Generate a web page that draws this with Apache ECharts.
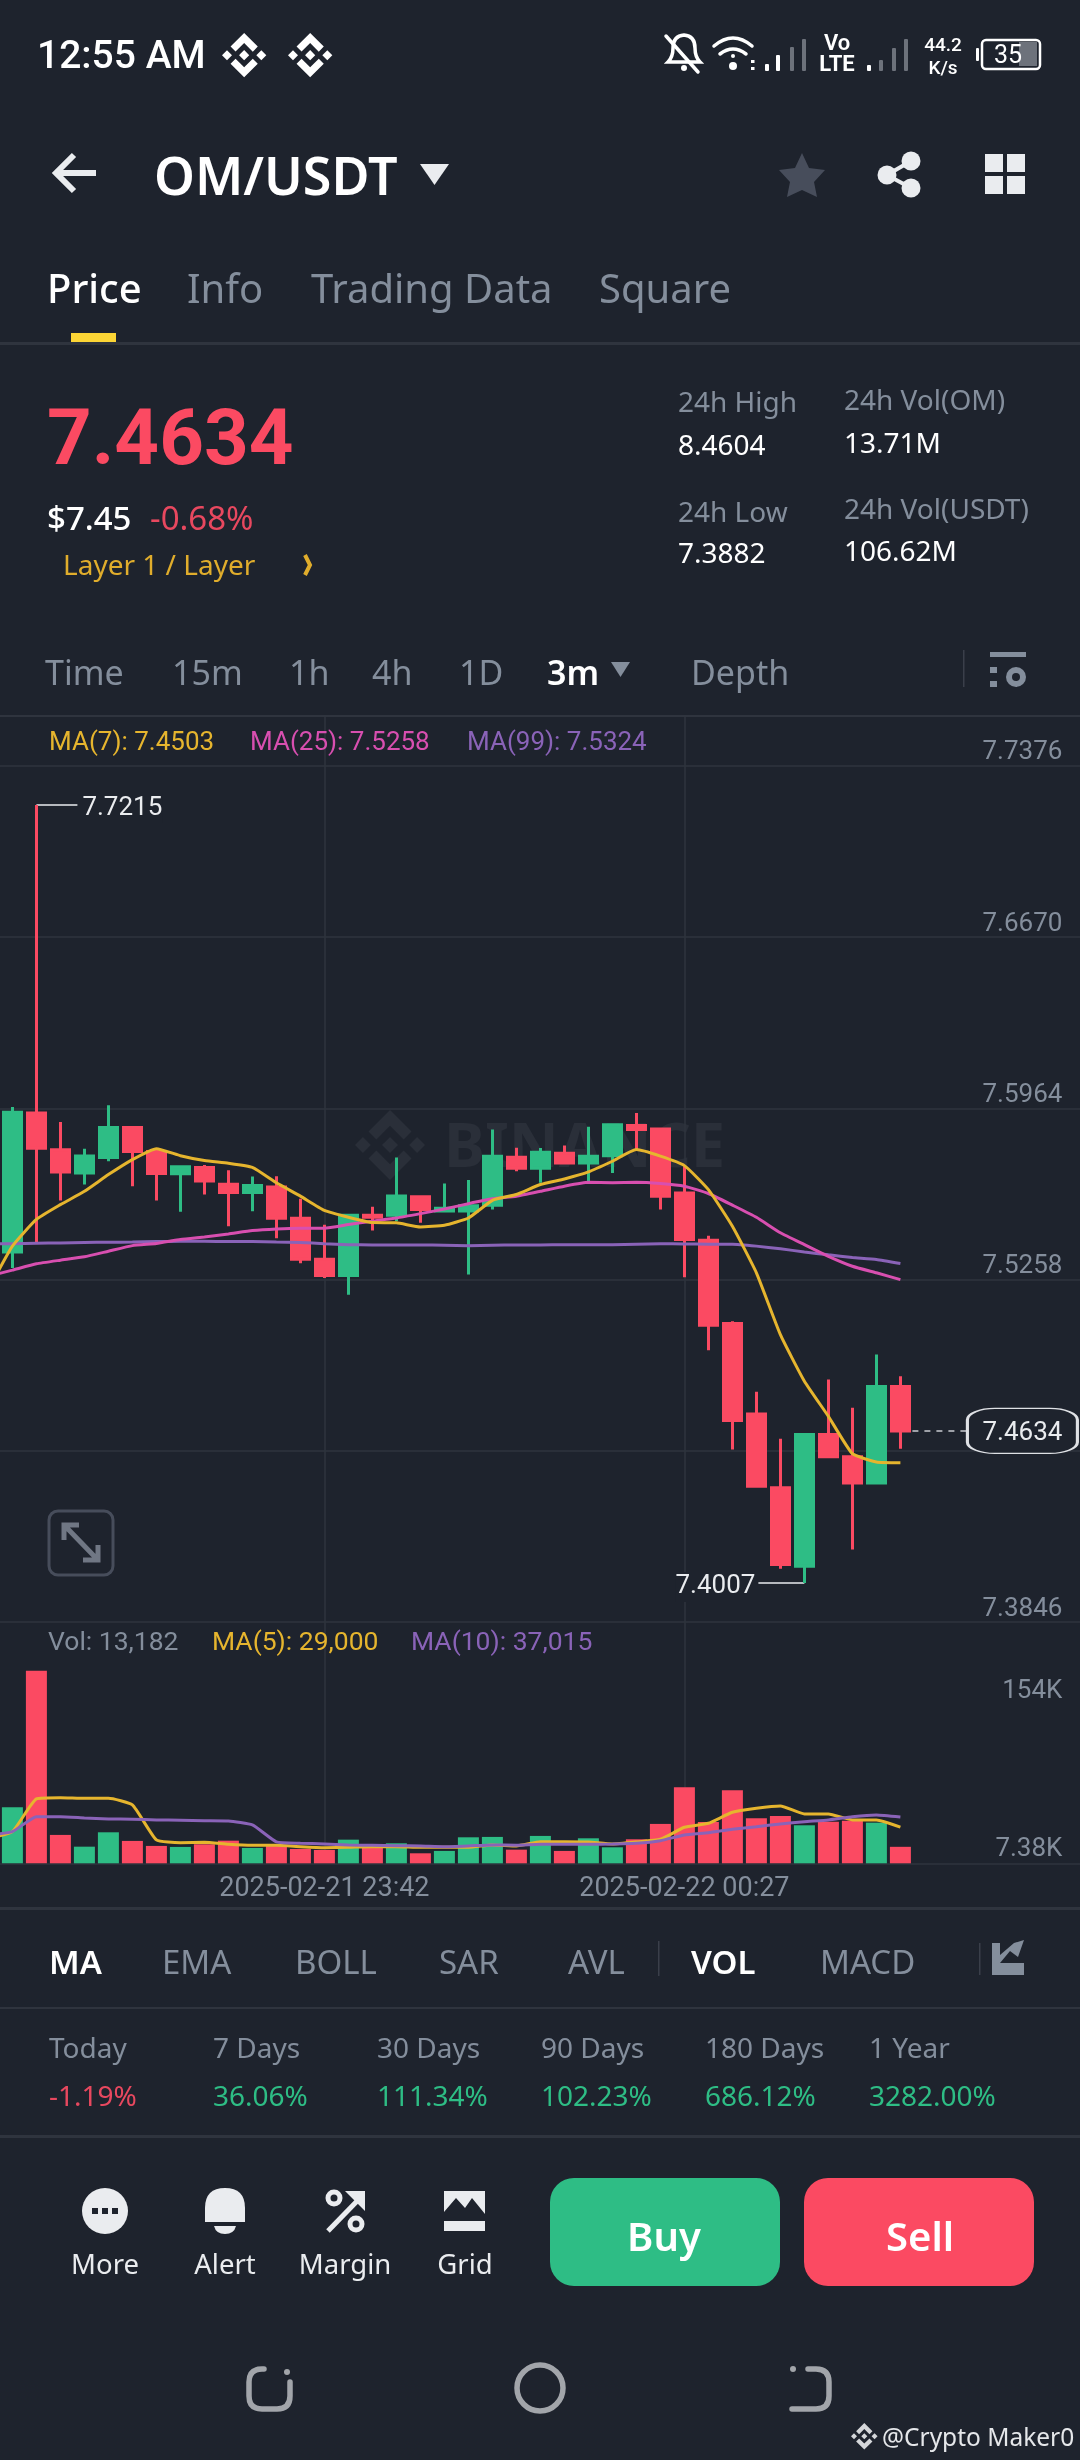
<!DOCTYPE html>
<html>
<head>
<meta charset="utf-8">
<script src="https://cdn.jsdelivr.net/npm/echarts@6/dist/echarts.min.js"></script>
<style>
  html, body { margin: 0; padding: 0; background: #1e232d; }
  #page { position: relative; width: 1080px; height: 2460px; overflow: hidden; background: #1e232d; font-family: "Noto Sans", sans-serif; }
  #mark { position: absolute; left: 0; top: 0; }
  #chart { position: absolute; left: 0; top: 0; width: 1080px; height: 2460px; }
  #icons { position: absolute; left: 0; top: 0; }
  .t { position: absolute; white-space: nowrap; line-height: 1; }
  .rule { position: absolute; left: 0; width: 1080px; background: #2f343e; }
</style>
</head>
<body>
<div id="page">
  <svg id="mark" width="1080" height="2460" viewBox="0 0 1080 2460">
    <g fill="#2a2f39" transform="translate(355,1110) scale(0.553)">
      <path d="M38.73 53.2l24.59-24.58 24.6 24.6 14.3-14.31L63.32 0 24.42 38.9l14.31 14.3z"/>
      <path d="M0 63.31l14.3-14.31 14.31 14.31-14.31 14.3z"/>
      <path d="M38.73 73.41l24.59 24.59 24.6-24.6 14.31 14.29-38.9 38.91-38.91-38.88-.02-.02z"/>
      <path d="M98 63.31l14.3-14.31 14.31 14.3-14.31 14.32z"/>
      <path d="M77.83 63.3L63.32 48.78 52.59 59.51l-1.24 1.23-2.54 2.54 14.51 14.5 14.51-14.47z"/>
    </g>
    <text x="444" y="1167" fill="#2a2f39" font-family="Noto Sans" font-weight="700" font-size="61.5">BINANCE</text>
  </svg>
  <div id="chart"></div>
  <div class="rule" style="top:342px;height:3px"></div>
  <div class="rule" style="top:715px;height:2px"></div>
  <div class="rule" style="top:1907px;height:3px"></div>
  <div class="rule" style="top:2007px;height:2px"></div>
  <div class="rule" style="top:2135px;height:3px"></div>
  <svg id="icons" width="1080" height="2460" viewBox="0 0 1080 2460">
    <defs>
      <g id="bnb">
        <path d="M38.73 53.2l24.59-24.58 24.6 24.6 14.3-14.31L63.32 0 24.42 38.9l14.31 14.3z"/>
        <path d="M0 63.31l14.3-14.31 14.31 14.31-14.31 14.3z"/>
        <path d="M38.73 73.41l24.59 24.59 24.6-24.6 14.31 14.29-38.9 38.91-38.91-38.88-.02-.02z"/>
        <path d="M98 63.31l14.3-14.31 14.31 14.3-14.31 14.32z"/>
        <path d="M77.83 63.3L63.32 48.78 52.59 59.51l-1.24 1.23-2.54 2.54 14.51 14.5 14.51-14.47z"/>
      </g>
    </defs>
    <!-- status bar -->
    <use href="#bnb" fill="#fff" transform="translate(222,33) scale(0.35)"/>
    <use href="#bnb" fill="#fff" transform="translate(288,33) scale(0.35)"/>
    <g fill="none" stroke="#fff" stroke-width="3.5" stroke-linecap="round">
      <path d="M668 62 q5-5 5-14 q0-12 11-13 q11 1 11 13 q0 9 5 14 z"/>
      <path d="M666 36 L698 72"/>
      <path d="M714 46 q19-16 38 0"/>
      <path d="M720 54 q13-10 26 0"/>
    </g>
    <circle cx="684" cy="68" r="3" fill="#fff"/>
    <circle cx="733" cy="66" r="4" fill="#fff"/>
    <circle cx="733" cy="56" r="2" fill="#fff"/>
    <g fill="#fff">
      <rect x="751" y="60" width="3.5" height="3"/><rect x="751" y="67" width="3.5" height="3"/>
      <rect x="765" y="64" width="4" height="7" rx="1"/><rect x="776" y="55" width="4" height="16" rx="1"/>
      <rect x="867" y="65" width="4" height="6" rx="1"/>
    </g>
    <g fill="#6d727b">
      <rect x="790" y="47" width="4" height="24" rx="1"/><rect x="802" y="39" width="4" height="32" rx="1"/>
      <rect x="879" y="60" width="4" height="11" rx="1"/><rect x="892" y="48" width="4" height="23" rx="1"/><rect x="904" y="39" width="4" height="32" rx="1"/>
    </g>
    <rect x="1019" y="42" width="18" height="24" fill="#6d727b"/>
    <rect x="982" y="40" width="58" height="29" rx="4" fill="none" stroke="#fff" stroke-width="2.5"/>
    <rect x="976" y="48" width="3" height="13" rx="1" fill="#fff"/>
    <!-- header -->
    <path d="M96 173 H58 M74 155 L56 173 L74 191" fill="none" stroke="#eaecef" stroke-width="6"/>
    <path d="M420 164 H449 L434.5 185 z" fill="#eaecef"/>
    <path d="M802 153 l7 15 l16 2 l-11 12 l3 15 l-15 -7 l-15 7 l3 -15 l-11 -12 l16 -2 z" fill="#474d5b"/>
    <g fill="#eaecef">
      <circle cx="911" cy="161" r="9.5"/><circle cx="887" cy="175" r="9.5"/><circle cx="911" cy="188" r="9.5"/>
      <rect x="985" y="154" width="18" height="18"/><rect x="1007" y="154" width="18" height="18"/>
      <rect x="985" y="176" width="18" height="18"/><rect x="1007" y="176" width="18" height="18"/>
    </g>
    <path d="M911 161 L887 175 L911 188" fill="none" stroke="#eaecef" stroke-width="4"/>
    <rect x="71" y="333" width="45" height="9" fill="#fcd535"/>
    <path d="M305 555 l5 10 l-5 10" fill="none" stroke="#e0ad2c" stroke-width="4"/>
    <!-- interval row -->
    <path d="M611 662 H630 L620.5 677 z" fill="#848e9c"/>
    <rect x="963" y="650" width="1.5" height="37" fill="#3a3f4a"/>
    <g fill="#848e9c">
      <rect x="990" y="652" width="36" height="5"/>
      <rect x="990" y="667" width="7" height="6"/><rect x="990" y="681" width="7" height="6"/>
      <circle cx="1016" cy="677" r="10"/>
    </g>
    <circle cx="1016" cy="677" r="4" fill="#1e232d"/>
    <!-- expand button -->
    <rect x="49" y="1511" width="64" height="64" rx="9" fill="none" stroke="#474d5b" stroke-width="3"/>
    <path d="M66 1527 L96 1558 M64 1540 V1525 H79 M98 1545 V1560 H83" fill="none" stroke="#707784" stroke-width="5"/>
    <!-- indicator row -->
    <rect x="658" y="1941" width="1.5" height="35" fill="#3a3f4a"/>
    <rect x="979" y="1943" width="1.5" height="32" fill="#3a3f4a"/>
    <path d="M992 1943 h8 v12 l14 -12 l10 -3 l-6 17 l-8 -6 l-10 12 h24 v12 h-32 z" fill="#848e9c"/>
    <!-- bottom actions -->
    <circle cx="105" cy="2211" r="23" fill="#eaecef"/>
    <g fill="#1e232d"><rect x="92" y="2208" width="6" height="6"/><rect x="102" y="2208" width="6" height="6"/><rect x="112" y="2208" width="6" height="6"/></g>
    <path d="M205 2222 V2208 q0-20 20-20 q20 0 20 20 V2222 z" fill="#eaecef"/>
    <path d="M214 2226 h22 q-2 8 -11 8 q-9 0 -11 -8 z" fill="#eaecef"/>
    <g fill="none" stroke="#eaecef" stroke-width="5">
      <path d="M328 2231 L362 2196"/><circle cx="334" cy="2198" r="6"/><circle cx="356" cy="2224" r="6"/>
    </g>
    <path d="M345 2191 H365 V2211 z" fill="#eaecef"/>
    <path d="M444 2191 H485 V2214 L472 2198 L465 2208 L456 2198 L444 2212 z" fill="#eaecef"/>
    <rect x="444" y="2221" width="41" height="10" fill="#eaecef"/>
    <rect x="550" y="2178" width="230" height="108" rx="24" fill="#2ebd85"/>
    <rect x="804" y="2178" width="230" height="108" rx="24" fill="#fb4a62"/>
    <!-- nav bar -->
    <g fill="none" stroke="#a2a5aa" stroke-width="5.5" stroke-linecap="round">
      <path d="M264 2369 h-2 q-13 0 -13 13 v14 q0 13 13 13 h15 q13 0 13 -13 v-14"/>
      <ellipse cx="540" cy="2388" rx="23" ry="23"/>
      <path d="M808 2369 h8 q13 0 13 13 v14 q0 13 -13 13 h-24"/>
    </g>
    <circle cx="287" cy="2372" r="3" fill="#a2a5aa"/>
    <circle cx="793" cy="2369" r="3" fill="#a2a5aa"/>
    <use href="#bnb" fill="#d5d7da" transform="translate(851,2423) scale(0.21)"/>
  </svg>
</div>
<script>
// 3m candles, 23:03 -> 00:54
const opens  = [7.5372,7.5945,7.5793,7.5698,7.5761,7.5885,7.5786,7.5694,7.5720,7.5651,7.5617,7.5640,7.5511,7.5342,7.5275,7.5523,7.5523,7.5600,7.5541,7.5541,7.5565,7.5763,7.5717,7.5779,7.5739,7.5769,7.5893,7.5879,7.5615,7.5420,7.5077,7.4704,7.4400,7.4076,7.4619,7.4527,7.4419,7.4817];
const closes = [7.5948,7.5800,7.5702,7.5768,7.5885,7.5786,7.5695,7.5723,7.5665,7.5617,7.5646,7.5511,7.5342,7.5275,7.5523,7.5515,7.5603,7.5547,7.5552,7.5563,7.5767,7.5717,7.5783,7.5739,7.5767,7.5897,7.5877,7.5602,7.5423,7.5070,7.4677,7.4406,7.4083,7.4619,7.4527,7.4419,7.4817,7.4634];
const lows   = [7.5306,7.5412,7.5584,7.5650,7.5746,7.5643,7.5584,7.5538,7.5609,7.5478,7.5540,7.5429,7.5325,7.5265,7.5196,7.5460,7.5499,7.5492,7.5537,7.5279,7.5547,7.5705,7.5657,7.5739,7.5657,7.5698,7.5794,7.5547,7.5268,7.4967,7.4557,7.4406,7.4066,7.4007,7.4527,7.4145,7.4419,7.4560];
const highs  = [7.5970,7.7215,7.5908,7.5798,7.5977,7.5885,7.5794,7.5723,7.5731,7.5709,7.5683,7.5684,7.5591,7.5484,7.5529,7.5558,7.5761,7.5600,7.5654,7.5669,7.5877,7.5802,7.5801,7.5811,7.5888,7.5897,7.5945,7.5879,7.5725,7.5439,7.5086,7.4795,7.4602,7.4619,7.4846,7.4730,7.4949,7.4859];

// these start one bar before the first visible candle, so the lines run off the left edge
const ma7  = [7.5217,7.5396,7.5506,7.5567,7.5622,7.5691,7.5753,7.5798,7.5769,7.5749,7.5738,7.5721,7.5657,7.5602,7.5543,7.5515,7.5493,7.5492,7.5475,7.5482,7.5512,7.5585,7.5609,7.5650,7.5673,7.5702,7.5746,7.5794,7.5767,7.5728,7.5629,7.5478,7.5286,7.5031,7.4839,7.4694,7.4540,7.4506,7.4503];
const ma25 = [7.5272,7.5297,7.5323,7.5338,7.5352,7.5375,7.5398,7.5407,7.5423,7.5434,7.5446,7.5460,7.5467,7.5470,7.5470,7.5485,7.5499,7.5512,7.5530,7.5549,7.5571,7.5591,7.5602,7.5622,7.5643,7.5659,7.5657,7.5659,7.5654,7.5643,7.5613,7.5565,7.5515,7.5451,7.5402,7.5354,7.5313,7.5286,7.5258];
const ma99 = [7.5406,7.5406,7.5408,7.5409,7.5411,7.5412,7.5413,7.5415,7.5416,7.5416,7.5415,7.5415,7.5413,7.5411,7.5406,7.5402,7.5401,7.5401,7.5401,7.5400,7.5398,7.5400,7.5401,7.5401,7.5402,7.5402,7.5402,7.5404,7.5406,7.5405,7.5404,7.5404,7.5396,7.5385,7.5372,7.5360,7.5349,7.5341,7.5324];

const volumes = [44800,154000,22700,13300,24800,17900,13900,13100,15200,18100,12300,14700,11500,10700,18900,13300,16000,8000,9900,20800,21100,10900,21900,9900,20000,12800,19200,31500,60800,33100,58400,36000,37900,30400,33300,34100,32500,13182];
const volMa5  = [20000,25300,51500,52500,52000,52000,46700,18700,16500,16800,15200,14400,14400,13300,12500,12800,13300,13300,12800,12800,12800,14700,13900,17300,17300,17100,15500,17100,19200,28800,32000,40800,44000,45900,39500,39500,34700,34700,29000];
const volMa10 = [22700,25300,37300,37300,36300,35500,35200,34700,34400,34100,33900,30700,17100,16000,15500,14700,14400,14100,13900,13300,13900,14700,14400,15200,15200,15200,15500,16000,18100,22700,24500,27200,29300,31500,33300,34700,37300,38700,37015];

const times = ['2025-02-21 23:00','2025-02-21 23:03','2025-02-21 23:06','2025-02-21 23:09','2025-02-21 23:12','2025-02-21 23:15','2025-02-21 23:18','2025-02-21 23:21','2025-02-21 23:24','2025-02-21 23:27','2025-02-21 23:30','2025-02-21 23:33','2025-02-21 23:36','2025-02-21 23:39','2025-02-21 23:42','2025-02-21 23:45','2025-02-21 23:48','2025-02-21 23:51','2025-02-21 23:54','2025-02-21 23:57','2025-02-22 00:00','2025-02-22 00:03','2025-02-22 00:06','2025-02-22 00:09','2025-02-22 00:12','2025-02-22 00:15','2025-02-22 00:18','2025-02-22 00:21','2025-02-22 00:24','2025-02-22 00:27','2025-02-22 00:30','2025-02-22 00:33','2025-02-22 00:36','2025-02-22 00:39','2025-02-22 00:42','2025-02-22 00:45','2025-02-22 00:48','2025-02-22 00:51','2025-02-22 00:54','2025-02-22 00:57','2025-02-22 01:00','2025-02-22 01:03','2025-02-22 01:06','2025-02-22 01:09','2025-02-22 01:12','2025-02-22 01:15'];
const timeLabels = ['2025-02-21 23:42', '2025-02-22 00:27'];

const priceTicks = [7.3846, 7.4552, 7.5258, 7.5964, 7.6670, 7.7376];
const volTicks = [7380, 154000];
const lastPrice = 7.4634, highPrice = 7.7215, lowPrice = 7.4007;

const UP = '#2ebd85', DOWN = '#fb4a62', YELLOW = '#e6b52e', PINK = '#d84fb0', PURPLE = '#8a63b8';
const GRID = '#2f343e', GREY = '#848e9c', BG = '#1e232d';

// page texts
const page = document.getElementById('page');
function txt(str, x, y, size, color, weight, anchor, font) {
  const d = document.createElement('div');
  d.className = 't';
  d.textContent = str;
  const tx = anchor === 'c' ? '-50%' : anchor === 'r' ? '-100%' : '0';
  d.style.cssText = 'left:' + x + 'px;top:' + y + 'px;font-size:' + size + 'px;color:' + color +
    ';font-weight:' + (weight || 400) + ';transform:translate(' + tx + ',-50%);' + (font ? 'font-family:' + font : '');
  page.appendChild(d);
}
const WHITE = '#eaecef';
txt('12:55 AM', 37, 55, 39, '#fff', 500, 'l', 'Roboto');
txt('Vo', 837, 43, 22, '#fff', 600, 'c', 'Roboto');
txt('LTE', 837, 64, 22, '#fff', 700, 'c', 'Roboto');
txt('44.2', 943, 44, 19, '#fff', 500, 'c', 'Roboto');
txt('K/s', 943, 67, 19, '#fff', 500, 'c', 'Roboto');
txt('35', 1008, 54, 25, '#fff', 400, 'c', 'Roboto');
txt('OM/USDT', 154, 175, 52, '#fff', 600);
[['Price', 47, '#fff', 500], ['Info', 187, GREY], ['Trading Data', 311, GREY], ['Square', 599, GREY]].forEach(a => txt(a[0], a[1], 288, 40, a[2], a[3]));
txt('7.4634', 47, 438, 78, DOWN, 700, 'l', 'Roboto');
txt('$7.45', 47, 517, 33, '#fff', 500);
txt('-0.68%', 150, 517, 33, '#e8485f', 400);
txt('Layer 1 / Layer', 63, 564, 28, '#e0ad2c');
txt('24h High', 678, 401, 28, GREY);
txt('8.4604', 678, 444, 28, '#fff');
txt('24h Low', 678, 511, 28, GREY);
txt('7.3882', 678, 552, 28, '#fff');
txt('24h Vol(OM)', 844, 399, 28, GREY);
txt('13.71M', 844, 442, 28, '#fff');
txt('24h Vol(USDT)', 844, 508, 28, GREY);
txt('106.62M', 844, 550, 28, '#fff');
[['Time', 45], ['15m', 172], ['1h', 289], ['4h', 372], ['1D', 459], ['Depth', 691]].forEach(a => txt(a[0], a[1], 671.5, 34, GREY));
txt('3m', 547, 671.5, 34, '#fff', 600);
txt('MA(7): 7.4503', 49, 741, 26, YELLOW, 400, 'l', 'Roboto');
txt('MA(25): 7.5258', 250, 741, 26, PINK, 400, 'l', 'Roboto');
txt('MA(99): 7.5324', 467, 741, 26, PURPLE, 400, 'l', 'Roboto');
txt('Vol: 13,182', 48, 1641, 26.5, GREY, 400, 'l', 'Roboto');
txt('MA(5): 29,000', 212, 1641, 26.5, YELLOW, 400, 'l', 'Roboto');
txt('MA(10): 37,015', 411, 1641, 26.5, PURPLE, 400, 'l', 'Roboto');
[['EMA', 162], ['BOLL', 295], ['SAR', 439], ['AVL', 568], ['MACD', 820]].forEach(a => txt(a[0], a[1], 1960.5, 33, GREY));
txt('MA', 49, 1960.5, 33, '#fff', 600);
txt('VOL', 691, 1960.5, 33, '#fff', 600);
[['Today', '-1.19%', 49, '#e8485f'], ['7 Days', '36.06%', 213, UP], ['30 Days', '111.34%', 377, UP], ['90 Days', '102.23%', 541, UP], ['180 Days', '686.12%', 705, UP], ['1 Year', '3282.00%', 869, UP]].forEach(a => {
  txt(a[0], a[2], 2047, 28, GREY);
  txt(a[1], a[2], 2095, 28, a[3]);
});
[['More', 105], ['Alert', 225], ['Margin', 345], ['Grid', 465]].forEach(a => txt(a[0], a[1], 2264, 27.5, WHITE, 400, 'c'));
txt('Buy', 664, 2236, 40, '#fff', 600, 'c');
txt('Sell', 920, 2236, 40, '#fff', 600, 'c');
txt('@Crypto Maker0', 882, 2437, 24.5, '#e5e7ea');

// chart
const myChart = echarts.init(document.getElementById('chart'));
const candleData = [['-', '-', '-', '-']].concat(opens.map((o, i) => [o, closes[i], lows[i], highs[i]]));
const volData = [null].concat(volumes.map((v, i) => ({
  value: v,
  itemStyle: { color: closes[i] >= opens[i] ? UP : DOWN }
})));
const maLine = (name, data, color, xi, yi) => ({
  name: name, type: 'line', data: data, xAxisIndex: xi, yAxisIndex: yi,
  symbol: 'none', smooth: 0.15, z: 3, silent: true,
  lineStyle: { color: color, width: 3 }
});
const markText = { color: WHITE, fontSize: 26, fontFamily: 'Roboto' };
const noLabel = { show: false };
const vLine = { color: GRID, width: 1.5, type: 'solid' };

myChart.setOption({
  animation: false,
  grid: [
    { left: -23.6, width: 1104, top: 717, height: 905, outerBoundsMode: 'none' },
    { left: -23.6, width: 1104, top: 1622, height: 241.3, outerBoundsMode: 'none' }
  ],
  xAxis: [
    { type: 'category', data: times, gridIndex: 0, boundaryGap: true,
      axisLine: { show: false }, axisTick: { show: false }, axisLabel: { show: false }, splitLine: { show: false } },
    { type: 'category', data: times, gridIndex: 1, boundaryGap: true,
      axisLine: { show: true, lineStyle: { color: GRID, width: 1.5 } }, axisTick: { show: false }, splitLine: { show: false },
      axisLabel: {
        color: GREY, fontSize: 27, fontFamily: 'Roboto', margin: 12,
        interval: (i, v) => timeLabels.includes(v)
      } }
  ],
  yAxis: [
    { type: 'value', gridIndex: 0, position: 'right', min: 7.3846, max: 7.7578,
      axisLine: { show: false },
      axisTick: { show: false, customValues: priceTicks },
      splitLine: { show: true, lineStyle: { color: GRID, width: 1.5 } },
      axisLabel: {
        inside: true, margin: 18, color: GREY, fontSize: 26, fontFamily: 'Roboto',
        verticalAlign: 'bottom',
        customValues: priceTicks,
        formatter: v => v.toFixed(4)
      } },
    { type: 'value', gridIndex: 1, position: 'right', min: 0, max: 193000,
      axisLine: { show: false },
      axisTick: { show: false, customValues: volTicks },
      splitLine: { show: false },
      axisLabel: {
        inside: true, margin: 18, color: GREY, fontSize: 26, fontFamily: 'Roboto',
        verticalAlign: 'middle',
        customValues: volTicks,
        formatter: v => v === 154000 ? '{top|154K}' : '{low|7.38K}',
        rich: {
          top: { color: GREY, fontSize: 26, fontFamily: 'Roboto', padding: [42, 0, 0, 0] },
          low: { color: GREY, fontSize: 26, fontFamily: 'Roboto', padding: [0, 0, 10, 0] }
        }
      } }
  ],
  series: [
    {
      name: 'OM/USDT', type: 'candlestick', data: candleData, xAxisIndex: 0, yAxisIndex: 0,
      barWidth: 18, z: 2, silent: true,
      itemStyle: { color: UP, color0: DOWN, borderColor: UP, borderColor0: DOWN, borderWidth: 3 },
      markLine: {
        silent: true, z: 1, symbol: ['none', 'none'], animation: false,
        lineStyle: { color: WHITE, width: 1.5, type: 'solid' },
        label: noLabel,
        data: [
          { xAxis: timeLabels[0], lineStyle: vLine, label: noLabel },
          { xAxis: timeLabels[1], lineStyle: vLine, label: noLabel },
          [{ coord: [times[2], highPrice],
             label: Object.assign({ show: true, position: 'end', formatter: highPrice.toFixed(4), distance: -7, offset: [0, 3], backgroundColor: BG, padding: [2, 0, 2, 5] }, markText) },
           { coord: [times[4], highPrice] }],
          [{ coord: [times[34], lowPrice],
             label: Object.assign({ show: true, position: 'end', formatter: lowPrice.toFixed(4), distance: -2, offset: [0, 4], backgroundColor: BG, padding: [2, 3, 2, 0] }, markText) },
           { coord: [times[32], lowPrice] }],
          [{ coord: [times[38], lastPrice], lineStyle: { color: '#c9ccd1', width: 1.5, type: [6, 6] }, label: noLabel },
           { coord: [times[42], lastPrice] }]
        ]
      },
      markPoint: {
        silent: true, animation: false,
        data: [{
          coord: [times[43], lastPrice],
          symbol: 'roundRect', symbolSize: [110, 45], symbolOffset: [2, 0],
          itemStyle: { color: BG, borderColor: '#dfe1e5', borderWidth: 2 },
          label: Object.assign({ show: true, position: 'inside', offset: [0, 3], formatter: lastPrice.toFixed(4) }, markText)
        }]
      }
    },
    maLine('MA(99)', ma99, PURPLE, 0, 0),
    maLine('MA(25)', ma25, PINK, 0, 0),
    maLine('MA(7)', ma7, YELLOW, 0, 0),
    {
      name: 'Vol', type: 'bar', data: volData, xAxisIndex: 1, yAxisIndex: 1,
      barWidth: 21, z: 2, silent: true,
      markLine: {
        silent: true, z: 1, symbol: ['none', 'none'], animation: false, label: noLabel,
        lineStyle: vLine,
        data: [{ xAxis: timeLabels[0] }, { xAxis: timeLabels[1] }]
      }
    },
    maLine('MA(5)', volMa5, YELLOW, 1, 1),
    maLine('MA(10)', volMa10, PURPLE, 1, 1)
  ]
});
</script>
</body>
</html>
